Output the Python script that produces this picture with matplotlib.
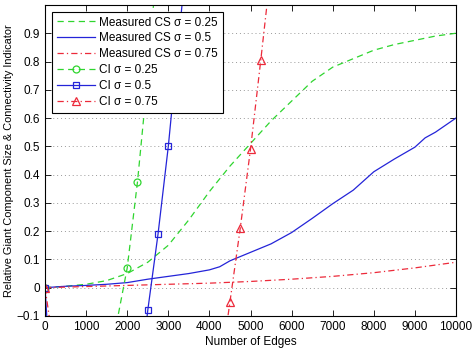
import matplotlib
matplotlib.use('Agg')
import matplotlib.pyplot as plt

plt.rcParams['font.family'] = ['Liberation Sans', 'DejaVu Sans']
plt.rcParams['font.size'] = 8.5

# measured giant component size
cs_x_green = [0, 500, 1000, 1500, 2000, 2500, 3000, 3500, 4000, 4500, 5000,
              5500, 6000, 6500, 7000, 7500, 8000, 8500, 9000, 9500, 10000]
cs_y_green = [0, 0.005, 0.012, 0.025, 0.05, 0.09, 0.15, 0.24, 0.34, 0.43, 0.51,
              0.59, 0.66, 0.73, 0.78, 0.81, 0.84, 0.86, 0.875, 0.89, 0.9]

cs_x_blue = [0, 500, 1000, 1500, 2000, 2500, 3000, 3500, 4000, 4250, 4500, 5000,
             5500, 6000, 6500, 7000, 7500, 8000, 8500, 9000, 9250, 9500, 10000]
cs_y_blue = [0, 0.005, 0.008, 0.012, 0.018, 0.03, 0.04, 0.05, 0.063, 0.074, 0.095, 0.125,
             0.155, 0.195, 0.245, 0.297, 0.345, 0.41, 0.455, 0.497, 0.53, 0.55, 0.6]

cs_x_red = [0, 1000, 2000, 3000, 4000, 5000, 6000, 7000, 8000, 9000, 10000]
cs_y_red = [0, 0.004, 0.008, 0.012, 0.016, 0.022, 0.03, 0.04, 0.053, 0.07, 0.09]

# connectivity indicator (values outside the axes are clipped)
ci_x_green = [0, 250, 1750, 2000, 2250, 2500, 2750]
ci_y_green = [0, -2.0, -0.12, 0.07, 0.375, 0.75, 1.2]

ci_x_blue = [0, 250, 2250, 2500, 2750, 3000, 3250, 3500]
ci_y_blue = [0, -0.6, -0.4, -0.08, 0.19, 0.5, 0.875, 1.25]

ci_x_red = [0, 250, 4250, 4500, 4750, 5000, 5250, 5500]
ci_y_red = [0, -0.25, -0.31, -0.05, 0.21, 0.49, 0.805, 1.13]

green = '#2fd52f'
blue = '#2424d8'
red = '#ec2a3a'
dash = (0, (5, 3.5))
dashdot = (0, (5, 2.5, 1, 2.5))

fig = plt.figure(figsize=(4.74, 3.55), dpi=100)
ax = fig.add_axes([0.095, 0.11, 0.867, 0.876])

ax.plot(cs_x_green, cs_y_green, linestyle=dash, color=green, lw=0.9, label='Measured CS σ = 0.25')
ax.plot(cs_x_blue, cs_y_blue, '-', color=blue, lw=0.9, label='Measured CS σ = 0.5')
ax.plot(cs_x_red, cs_y_red, linestyle=dashdot, color=red, lw=0.9, label='Measured CS σ = 0.75')
ax.plot(ci_x_green, ci_y_green, linestyle=dash, color=green, lw=0.9, marker='o', ms=5,
        mfc='none', mew=0.9, label='CI σ = 0.25')
ax.plot(ci_x_blue, ci_y_blue, '-', color=blue, lw=0.9, marker='s', ms=5,
        mfc='none', mew=0.9, label='CI σ = 0.5')
ax.plot(ci_x_red, ci_y_red, linestyle=dashdot, color=red, lw=0.9, marker='^', ms=6,
        mfc='none', mew=0.9, label='CI σ = 0.75')

ax.set_xlim(0, 10000)
ax.set_ylim(-0.1, 1.0)
ax.set_xticks(range(0, 10001, 1000))
ax.set_yticks([-0.1, 0, 0.1, 0.2, 0.3, 0.4, 0.5, 0.6, 0.7, 0.8, 0.9])
ax.set_yticklabels(['\u22120.1', '0', '0.1', '0.2', '0.3', '0.4', '0.5', '0.6', '0.7', '0.8', '0.9'])
ax.tick_params(direction='in', top=True, right=True, length=4, width=0.6)
ax.grid(axis='y', linestyle=(0, (1, 3)), color='#999999', lw=0.7)
for s in ax.spines.values():
    s.set_linewidth(0.8)

ax.set_xlabel('Number of Edges', labelpad=2)
ax.set_ylabel('Relative Giant Component Size & Connectivity Indicator', fontsize=7.9, labelpad=2)

leg = ax.legend(loc='upper left', bbox_to_anchor=(0.017, 0.978), fancybox=False,
                framealpha=1, edgecolor='black', handlelength=3.2,
                borderpad=0.4, labelspacing=0.33, handletextpad=0.4, borderaxespad=0)
leg.get_frame().set_linewidth(0.8)

fig.savefig('out.png', dpi=100)
